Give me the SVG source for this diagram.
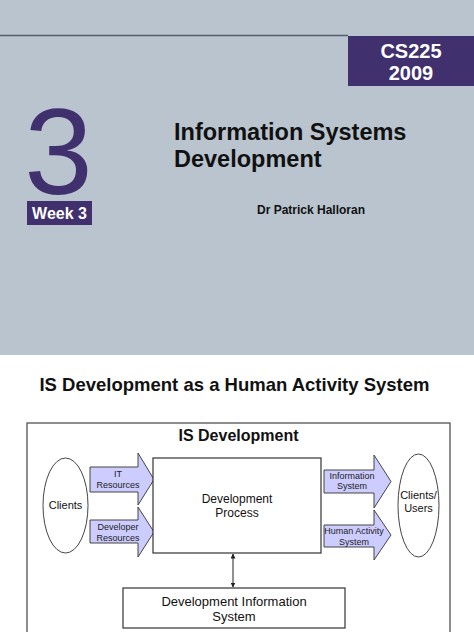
<svg xmlns="http://www.w3.org/2000/svg" width="474" height="632" viewBox="0 0 474 632">
<defs>
<style>
.t{font-family:"Liberation Sans",Arial,sans-serif;}
.b{font-weight:bold;}
.arr{fill:#ccccff;stroke:#444;stroke-width:1;}
.box{fill:#fff;stroke:#333;stroke-width:1.2;}
</style>
<marker id="ah" viewBox="0 0 10 10" refX="9" refY="5" markerWidth="5" markerHeight="5" orient="auto-start-reverse"><path d="M0,0 L10,5 L0,10 z" fill="#222"/></marker>
</defs>
<rect width="474" height="632" fill="#fff"/>
<g id="title-slide">
<rect x="0" y="0" width="474" height="355" fill="#b9c4ce"/>
<line x1="0" y1="35.5" x2="348" y2="35.5" stroke="#56606a" stroke-width="1.5"/>
<rect x="348" y="36" width="126" height="50" fill="#40306e"/>
<text class="t b" x="411" y="58" font-size="20" fill="#fff" text-anchor="middle">CS225</text>
<text class="t b" x="411" y="80" font-size="20" fill="#fff" text-anchor="middle">2009</text>
<text class="t" x="58.5" y="194" font-size="123" fill="#40306e" text-anchor="middle">3</text>
<rect x="27" y="201" width="65" height="24" fill="#40306e"/>
<text class="t b" x="59.5" y="219" font-size="16" fill="#fff" text-anchor="middle">Week 3</text>
<text class="t b" x="174" y="140" font-size="23.5" fill="#111">Information Systems</text>
<text class="t b" x="174" y="167" font-size="23.5" fill="#111">Development</text>
<text class="t b" x="257" y="214" font-size="12" fill="#111">Dr Patrick Halloran</text>
</g>
<text class="t b" x="234.5" y="391" font-size="18.5" fill="#111" text-anchor="middle">IS Development as a Human Activity System</text>
<g id="frame">
<rect x="27" y="423" width="423" height="220" fill="#fff" stroke="#444" stroke-width="1.2"/>
<text class="t b" x="238.5" y="441" font-size="16" fill="#111" text-anchor="middle">IS Development</text>
</g>
<g id="clients">
<ellipse cx="65.5" cy="505.5" rx="22.5" ry="47.5" fill="#fff" stroke="#444"/>
<text class="t" x="65.5" y="509" font-size="11" fill="#111" text-anchor="middle">Clients</text>
</g>
<g id="it-resources">
<path class="arr" d="M90,467 H138 V453 L154,479.5 L138,505 V492 H90 Z"/>
<text class="t" x="118" y="477" font-size="9" fill="#222" text-anchor="middle">IT</text>
<text class="t" x="118" y="488" font-size="9" fill="#222" text-anchor="middle">Resources</text>
</g>
<g id="developer-resources">
<path class="arr" d="M90,520 H138 V507 L154,532 L138,557 V543 H90 Z"/>
<text class="t" x="118" y="530" font-size="9" fill="#222" text-anchor="middle">Developer</text>
<text class="t" x="118" y="541" font-size="9" fill="#222" text-anchor="middle">Resources</text>
</g>
<g id="development-process">
<rect class="box" x="153" y="458" width="168" height="95"/>
<text class="t" x="237" y="503" font-size="12" fill="#111" text-anchor="middle">Development</text>
<text class="t" x="237" y="517" font-size="12" fill="#111" text-anchor="middle">Process</text>
</g>
<g id="information-system">
<path class="arr" d="M324,470 H374 V455 L391,481.5 L374,508 V493 H324 Z"/>
<text class="t" x="352" y="479" font-size="9" fill="#222" text-anchor="middle">Information</text>
<text class="t" x="352" y="489" font-size="9" fill="#222" text-anchor="middle">System</text>
</g>
<g id="human-activity-system">
<path class="arr" d="M324,525 H374 V510 L391,535 L374,560 V547 H324 Z"/>
<text class="t" x="354" y="534" font-size="9" fill="#222" text-anchor="middle">Human Activity</text>
<text class="t" x="354" y="545" font-size="9" fill="#222" text-anchor="middle">System</text>
</g>
<g id="clients-users">
<ellipse cx="418.5" cy="505.5" rx="20.5" ry="51.5" fill="#fff" stroke="#444"/>
<text class="t" x="418.5" y="499" font-size="11" fill="#111" text-anchor="middle">Clients/</text>
<text class="t" x="418.5" y="512" font-size="11" fill="#111" text-anchor="middle">Users</text>
</g>
<g id="dev-info-system">
<rect class="box" x="123" y="588" width="222" height="40"/>
<text class="t" x="234" y="606" font-size="13" fill="#111" text-anchor="middle">Development Information</text>
<text class="t" x="234" y="621" font-size="13" fill="#111" text-anchor="middle">System</text>
</g>
<g id="connectors">
<line x1="233" y1="554" x2="233" y2="587" stroke="#222" stroke-width="1" marker-start="url(#ah)" marker-end="url(#ah)"/>
</g>
</svg>
